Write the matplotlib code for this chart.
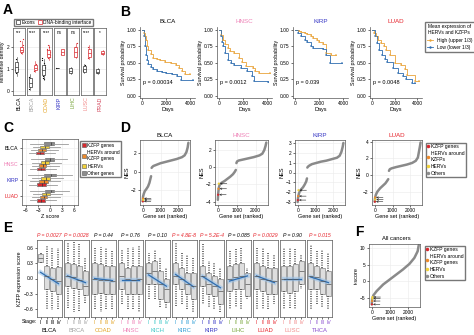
import matplotlib
matplotlib.use("Agg")
import matplotlib.pyplot as plt
from matplotlib.patches import Patch
from matplotlib.lines import Line2D

plt.rcParams['font.family'] = ['Liberation Sans', 'DejaVu Sans']
plt.rcParams['axes.linewidth'] = 0.5

W, H = 474, 335
HI = '#E9A43A'
LO = '#2E6DB0'
RED = '#D8282E'
ORANGE = '#EE8A2A'
YELLOW = '#F2D23A'
GREY = '#8C8C8C'

cancer_colors = {"BLCA": "black", "BRCA": "#A0A0A0", "COAD": "#E3A424", "KIRP": "#3434C4",
                 "LIHC": "#79A63C", "LUSC": "#F28A8A", "PRAD": "#D2475C", "HNSC": "#EE80B6",
                 "LUAD": "#E6232B", "KICH": "#3BC6C6", "KIRC": "#2E9ED6", "THCA": "#8A50D0"}

# ---------------- data: panel A ----------------
a_cancers = ["BLCA", "BRCA", "COAD", "KIRP", "LIHC", "LUSC", "PRAD"]
a_sig = ["***", "****", "****", "ns", "ns", "****", "*"]
# whislo, q1, med, q3, whishi
a_exon = [(0.7, 0.88, 1.1, 1.34, 1.55), (0.02, 0.18, 0.34, 0.57, 0.75), (0.5, 0.72, 0.95, 1.18, 1.45),
          (1.03, 1.03, 1.03, 1.03, 1.03), (0.75, 0.8, 0.9, 1.03, 1.1), (0.8, 0.88, 1.0, 1.14, 1.25),
          (0.75, 0.8, 0.88, 1.0, 1.05)]
a_dbi = [(1.7, 1.8, 1.9, 2.03, 2.3), (0.85, 0.95, 1.05, 1.18, 1.35), (1.4, 1.57, 1.72, 1.88, 2.1),
         (1.65, 1.65, 1.8, 1.95, 1.95), (1.5, 1.57, 1.8, 2.03, 2.2), (1.45, 1.57, 1.75, 1.95, 2.1),
         (1.65, 1.68, 1.75, 1.85, 1.9)]
a_exon_pts = [[0.8, 1.2, 1.45, 1.0, 0.95], [0.1, 0.3, 0.5, 0.2, 0.65, 0.4],
              [0.6, 0.8, 1.0, 1.2, 1.4, 0.9, 1.1, 0.7, 1.3, 0.85, 1.05, 1.5, 0.55, 0.95],
              [1.03], [0.85, 0.95, 1.0], [0.9, 1.0, 1.1, 1.2, 0.95, 1.05], [0.82, 0.9]]
a_dbi_pts = [[1.75, 1.9, 2.0, 2.1, 2.3, 1.85, 2.4], [0.9, 1.0, 1.1, 1.25],
             [1.5, 1.6, 1.7, 1.8, 1.9, 2.0, 1.65, 1.75, 1.85, 2.1, 1.55, 1.95],
             [1.7, 1.9], [1.6, 1.8, 2.0, 2.2], [1.5, 1.7, 1.8, 1.9, 2.0], [1.7, 1.8]]
jit = [-0.2, 0.15, -0.05, 0.25, -0.25, 0.05, 0.2, -0.15, 0.1, -0.1, 0.22, -0.22, 0.0, 0.12]

# ---------------- data: panel B ----------------
km_cancers = ["BLCA", "HNSC", "KIRP", "LUAD"]
km_p = ["p = 0.00034", "p = 0.0012", "p = 0.039", "p = 0.0048"]
km_hi_t = [[0, 100, 200, 300, 400, 500, 700, 900, 1200, 1500, 1900, 2400, 2800, 3100, 3300, 3600, 4000],
           [0, 150, 300, 500, 700, 900, 1200, 1600, 1900, 2200, 2800, 3000, 3300, 4200],
           [0, 300, 500, 800, 1000, 1300, 1500, 1800, 2000, 2300, 2600, 3000, 3400],
           [0, 150, 300, 500, 800, 1000, 1200, 1600, 2000, 2500, 2900, 3100, 3800, 4100]]
km_hi_s = [[1, 0.95, 0.9, 0.84, 0.76, 0.7, 0.64, 0.58, 0.56, 0.54, 0.52, 0.5, 0.46, 0.42, 0.37, 0.33, 0.33],
           [1, 0.92, 0.85, 0.78, 0.72, 0.68, 0.65, 0.58, 0.52, 0.45, 0.42, 0.37, 0.35, 0.35],
           [1, 0.98, 0.97, 0.95, 0.93, 0.9, 0.88, 0.85, 0.82, 0.78, 0.65, 0.62, 0.62],
           [1, 0.95, 0.9, 0.85, 0.8, 0.75, 0.7, 0.62, 0.5, 0.47, 0.4, 0.32, 0.22, 0.22]]
km_lo_t = [[0, 100, 200, 300, 400, 500, 700, 900, 1200, 1600, 2000, 2500, 2900, 3200, 4200],
           [0, 100, 200, 300, 500, 700, 1000, 1200, 1800, 2300, 2700, 2900, 4100],
           [0, 200, 500, 800, 1000, 1300, 1500, 2300, 2600, 2900, 3900],
           [0, 200, 400, 600, 900, 1100, 1300, 1800, 2300, 2700, 3000, 3500, 3800]]
km_lo_s = [[1, 0.9, 0.75, 0.62, 0.54, 0.48, 0.43, 0.4, 0.38, 0.36, 0.35, 0.33, 0.3, 0.24, 0.24],
           [1, 0.9, 0.82, 0.75, 0.65, 0.55, 0.5, 0.47, 0.42, 0.37, 0.3, 0.22, 0.21],
           [1, 0.95, 0.9, 0.85, 0.82, 0.76, 0.73, 0.71, 0.62, 0.5, 0.5],
           [1, 0.9, 0.8, 0.7, 0.62, 0.56, 0.52, 0.42, 0.35, 0.3, 0.25, 0.2, 0.2]]

# ---------------- data: panel C ----------------
c_cancers = ["BLCA", "HNSC", "KIRP", "LUAD"]
c_groups = ["Other genes", "HERVs", "HERVs around\nKZFP genes", "KZFP genes"]
c_group_colors = [GREY, YELLOW, ORANGE, RED]
c_stats = [[(-4.9, -1.4, 0.2, 1.1, 4.4), (-4.3, -2.4, -1.3, -0.3, 2.6), (-4.8, -3.0, -1.9, -1.0, 2.0), (-5.2, -3.4, -2.4, -1.4, 1.2)],
           [(-4.7, -1.3, 0.1, 1.0, 4.2), (-4.4, -2.3, -1.2, -0.2, 2.8), (-4.6, -2.8, -1.8, -0.9, 2.2), (-5.0, -3.3, -2.2, -1.3, 1.4)],
           [(-5.6, -1.6, 0.3, 1.4, 5.5), (-4.6, -2.2, -1.1, 0.0, 3.2), (-4.9, -2.7, -1.6, -0.6, 2.6), (-5.3, -3.2, -2.0, -0.9, 1.8)],
           [(-4.9, -1.3, 0.2, 1.1, 4.8), (-4.2, -2.1, -1.0, 0.0, 3.0), (-4.6, -2.6, -1.6, -0.7, 2.4), (-5.1, -3.2, -2.2, -1.2, 1.5)]]

# ---------------- data: panel D ----------------
d_ylims = [(-3.6, 3.4), (-4.4, 3.2), (-3.3, 3.3), (-3.6, 4.2)]
d_yticks = [[-2, 0, 2], [-4, -2, 0, 2], [-3, -2, -1, 0, 1, 2, 3], [-2, 0, 2, 4]]
d_lo_x = [[0, 20, 60, 120, 200, 300, 380, 430, 470],
          [0, 20, 50, 100, 200, 350, 500, 650, 800, 900, 950],
          [0, 20, 60, 120, 200, 300, 400, 480, 520],
          [0, 20, 60, 150, 300, 450, 600, 700, 760]]
d_lo_y = [[-3.2, -2.7, -2.4, -2.1, -1.9, -1.6, -1.2, -0.8, -0.5],
          [-3.8, -3.0, -2.4, -2.0, -1.8, -1.6, -1.35, -1.1, -0.8, -0.5, -0.3],
          [-3.0, -2.6, -2.2, -1.9, -1.7, -1.5, -1.2, -0.9, -0.6],
          [-3.2, -2.8, -2.4, -2.0, -1.6, -1.3, -1.0, -0.7, -0.5]]
d_hi_x = [[500, 540, 600, 800, 1000, 1300, 1600, 1900, 2200, 2350, 2450, 2520, 2560],
          [980, 1020, 1100, 1300, 1600, 1900, 2200, 2350, 2450, 2520, 2560],
          [540, 580, 650, 800, 1000, 1300, 1600, 1900, 2200, 2350, 2450, 2520, 2560],
          [800, 850, 950, 1200, 1500, 1800, 2100, 2300, 2420, 2480, 2540, 2570]]
d_hi_y = [[0.4, 0.5, 0.6, 0.75, 0.9, 1.05, 1.2, 1.35, 1.55, 1.75, 2.1, 2.6, 3.1],
          [0.5, 0.7, 0.8, 0.9, 1.05, 1.2, 1.4, 1.6, 2.0, 2.5, 2.9],
          [0.5, 0.6, 0.7, 0.85, 0.95, 1.1, 1.2, 1.35, 1.5, 1.7, 2.1, 2.6, 3.0],
          [0.5, 0.7, 0.8, 0.95, 1.1, 1.25, 1.45, 1.7, 2.1, 2.8, 3.5, 3.9]]
d_hl_x = [[10, 20, 30], [15, 35, 50], [10, 25, 45], [10, 20, 30]]
d_hl_y = [[-3.2, -2.9, -3.05], [-3.2, -2.5, -1.9], [-2.8, -2.4, -1.8], [-3.2, -2.7, -2.95]]
d_hl_c = [RED, ORANGE, YELLOW]

# ---------------- data: panel E ----------------
e_cancers = ["BLCA", "BRCA", "COAD", "HNSC", "KICH", "KIRC", "KIRP", "LIHC", "LUAD", "LUSC", "THCA"]
e_p = ["P = 0.0027", "P = 0.0028", "P = 0.44", "P = 0.76", "P = 0.10", "P = 4.8E-8",
       "P = 5.2E-4", "P = 0.085", "P = 0.0029", "P = 0.90", "P = 0.015"]
e_sig = [True, True, False, False, False, True, True, False, True, False, True]
stages = ["I", "II", "III", "IV"]
# per stage: whislo, q1, med, q3, whishi
e_stats = [
    [(0.28, 0.32, 0.4, 0.48, 0.52), (-0.6, -0.2, 0.05, 0.25, 0.65), (-0.62, -0.25, 0.0, 0.2, 0.6), (-0.62, -0.3, -0.05, 0.22, 0.6)],
    [(-0.6, -0.15, 0.05, 0.3, 0.72), (-0.65, -0.18, 0.02, 0.28, 0.72), (-0.65, -0.2, -0.02, 0.25, 0.7), (-0.5, -0.32, -0.15, 0.15, 0.4)],
    [(-0.6, -0.3, 0.0, 0.3, 0.6), (-0.65, -0.28, -0.02, 0.28, 0.62), (-0.6, -0.3, -0.02, 0.25, 0.6), (-0.6, -0.3, -0.05, 0.25, 0.55)],
    [(-0.5, -0.2, 0.05, 0.3, 0.55), (-0.6, -0.3, 0.0, 0.2, 0.6), (-0.6, -0.3, -0.02, 0.25, 0.62), (-0.65, -0.3, 0.0, 0.25, 0.65)],
    [(-0.4, -0.1, 0.1, 0.3, 0.5), (-0.4, -0.1, 0.15, 0.35, 0.55), (-0.55, -0.4, -0.1, 0.15, 0.4), (-0.6, -0.45, -0.2, 0.0, 0.2)],
    [(-0.55, -0.1, 0.05, 0.3, 0.72), (-0.5, -0.2, 0.0, 0.2, 0.5), (-0.6, -0.3, -0.1, 0.1, 0.45), (-0.65, -0.4, -0.15, 0.1, 0.4)],
    [(-0.5, -0.15, 0.05, 0.25, 0.7), (-0.55, -0.3, -0.1, 0.1, 0.35), (-0.6, -0.35, -0.15, 0.05, 0.3), (-0.65, -0.5, -0.25, 0.0, 0.2)],
    [(-0.6, -0.25, 0.0, 0.25, 0.55), (-0.55, -0.2, 0.02, 0.28, 0.6), (-0.6, -0.2, 0.05, 0.3, 0.6), (-0.4, -0.35, -0.1, 0.1, 0.2)],
    [(-0.6, -0.2, 0.05, 0.3, 0.62), (-0.6, -0.25, 0.0, 0.25, 0.6), (-0.6, -0.3, -0.02, 0.2, 0.5), (-0.5, -0.3, -0.05, 0.2, 0.45)],
    [(-0.6, -0.25, 0.0, 0.25, 0.6), (-0.6, -0.28, 0.0, 0.25, 0.6), (-0.6, -0.25, 0.0, 0.28, 0.6), (-0.2, -0.1, 0.15, 0.35, 0.45)],
    [(-0.6, -0.2, 0.05, 0.3, 0.65), (-0.5, -0.2, 0.02, 0.25, 0.55), (-0.55, -0.3, -0.05, 0.2, 0.55), (-0.6, -0.35, -0.1, 0.15, 0.5)],
]
e_trend_start = [0.12, 0.05, 0.0, -0.03, 0.07, 0.08, 0.04, -0.05, 0.05, 0.0, 0.03]
e_trend_end = [-0.1, -0.08, -0.04, -0.03, -0.15, -0.16, -0.18, 0.05, -0.08, 0.0, -0.08]

# ---------------- data: panel F ----------------
f_x = [0, 20, 90, 270, 630, 990, 1350, 1710, 2070, 2340, 2520, 2580]
f_y = [-7.0, -5.5, -4.3, -3.0, -1.0, 0.5, 2.0, 3.5, 5.2, 7.0, 9.0, 10.8]
f_hl_x = [10, 20, 30, 40]
f_hl_y = [-7.0, -6.0, -5.3, -4.8]
f_hl_c = [RED, ORANGE, YELLOW, YELLOW]

fig = plt.figure(figsize=(4.74, 3.35), dpi=100)


def px_axes(l, t, r, b):
    return fig.add_axes([l / W, 1 - b / H, (r - l) / W, (b - t) / H])


def tidy(ax, size=3.5):
    ax.tick_params(labelsize=size, length=1.5, width=0.4, pad=1)
    for s in ax.spines.values():
        s.set_color('#555555')
        s.set_linewidth(0.5)


def box_stats(rows):
    return [dict(whislo=r[0], q1=r[1], med=r[2], q3=r[3], whishi=r[4], fliers=[]) for r in rows]


# panel letters
for letter, x, y in [("A", 3, 10), ("B", 120, 12), ("C", 3, 128), ("D", 120, 128), ("E", 3, 228), ("F", 355, 232)]:
    fig.text(x / W, 1 - y / H, letter, fontsize=10, fontweight='bold', va='center')

# ---------------- panel A ----------------
a_left, a_right, a_top, a_bot, a_gap = 13, 106, 28, 95, 1.5
fw = (a_right - a_left - a_gap * 6) / 7
for i, c in enumerate(a_cancers):
    l = a_left + i * (fw + a_gap)
    ax = px_axes(l, a_top, l + fw, a_bot)
    tidy(ax)
    ax.yaxis.grid(True, color='#e5e5e5', lw=0.4)
    ax.set_axisbelow(True)
    bp = ax.bxp(box_stats([a_exon[i], a_dbi[i]]), positions=[1, 2], widths=0.6,
                patch_artist=True, showcaps=False)
    for patch, col in zip(bp['boxes'], ['#333333', RED]):
        patch.set(facecolor='white', edgecolor=col, linewidth=0.5)
    for j, w in enumerate(bp['whiskers']):
        w.set(color='#333333' if j < 2 else RED, linewidth=0.4)
    for j, m in enumerate(bp['medians']):
        m.set(color='#333333' if j == 0 else RED, linewidth=0.5)
    ax.scatter([1 + jit[k] for k in range(len(a_exon_pts[i]))], a_exon_pts[i], s=0.8, color='black', lw=0)
    ax.scatter([2 + jit[k] for k in range(len(a_dbi_pts[i]))], a_dbi_pts[i], s=0.8, color=RED, lw=0)
    ax.text(1.5, 2.58, a_sig[i], ha='center', va='bottom', fontsize=3.3)
    ax.set_xlim(0.3, 2.7)
    ax.set_ylim(-0.2, 2.9)
    ax.set_xticks([1.5])
    ax.set_xticklabels([c], rotation=90, fontsize=3.8, color=cancer_colors[c])
    ax.tick_params(axis='x', length=0)
    ax.set_yticks([0, 1, 2])
    if i == 0:
        ax.set_ylabel('Missense density', fontsize=3.8, labelpad=1)
    else:
        ax.set_yticklabels([])
        ax.tick_params(axis='y', length=0)

fig.legend(handles=[Patch(facecolor='white', edgecolor='#333333', lw=0.5, label='Exons'),
                    Patch(facecolor='white', edgecolor=RED, lw=0.5, label='DNA-binding interface')],
           loc='center left', bbox_to_anchor=(12 / W, 1 - 22.5 / H), ncol=2, fontsize=3.5,
           frameon=True, handlelength=0.8, handleheight=0.8, columnspacing=0.6, handletextpad=0.3,
           borderpad=0.3, edgecolor='#555555', fancybox=False)

# ---------------- panel B ----------------
b_boxes = [(140, 27, 195, 98), (217, 27, 272, 98), (293, 27, 348, 98), (370, 27, 422, 98)]
for i, c in enumerate(km_cancers):
    ax = px_axes(*b_boxes[i])
    tidy(ax)
    ax.step(km_hi_t[i], km_hi_s[i], where='post', color=HI, lw=0.6)
    ax.step(km_lo_t[i], km_lo_s[i], where='post', color=LO, lw=0.6)
    ax.plot(km_hi_t[i][1:], km_hi_s[i][1:], '+', ms=1.8, mew=0.35, color=HI)
    ax.plot(km_lo_t[i][1:], km_lo_s[i][1:], '+', ms=1.8, mew=0.35, color=LO)
    ax.set_xlim(-200, 4400)
    ax.set_ylim(-0.03, 1.04)
    ax.set_xticks([0, 2000, 4000])
    ax.set_yticks([0, 0.25, 0.5, 0.75, 1.0])
    ax.set_yticklabels(['0.00', '0.25', '0.50', '0.75', '1.00'])
    ax.spines['top'].set_visible(False)
    ax.spines['right'].set_visible(False)
    ax.set_title(c, color=cancer_colors[c], fontsize=4.5, pad=3)
    ax.set_ylabel('Survival probability', fontsize=3.8, labelpad=1)
    ax.set_xlabel('Days', fontsize=4, labelpad=0.5)
    ax.text(0.06, 0.2, km_p[i], transform=ax.transAxes, fontsize=4)

fig.legend(handles=[Line2D([], [], color=HI, lw=0.6, marker='+', ms=2, label='High (upper 1/3)'),
                    Line2D([], [], color=LO, lw=0.6, marker='+', ms=2, label='Low (lower 1/3)')],
           title='Mean expression of\nHERVs and KZFPs', title_fontsize=3.5, fontsize=3.5,
           loc='upper left', bbox_to_anchor=(423 / W, 1 - 20 / H), frameon=True, fancybox=False,
           edgecolor='#555555', handlelength=1.2, borderpad=0.4, labelspacing=0.5)

# ---------------- panel C ----------------
ax = px_axes(22, 139, 78, 205)
tidy(ax)
ax.grid(True, color='#ebebeb', lw=0.4)
ax.set_axisbelow(True)
offs = [-0.3, -0.1, 0.1, 0.3]
for ci in range(len(c_cancers)):
    bp = ax.bxp(box_stats(c_stats[ci]), positions=[ci + o for o in offs], widths=0.17,
                orientation='horizontal', patch_artist=True, showcaps=False)
    for patch, col in zip(bp['boxes'], c_group_colors):
        patch.set(facecolor=col, edgecolor='#555555', linewidth=0.4)
    for w in bp['whiskers']:
        w.set(color='#9a9a9a', linewidth=0.6)
    for m in bp['medians']:
        m.set(color='#333333', linewidth=0.5)
ax.set_ylim(3.6, -0.6)
ax.set_yticks(range(len(c_cancers)))
ax.set_yticklabels(c_cancers, fontsize=3.8)
for lab, c in zip(ax.get_yticklabels(), c_cancers):
    lab.set_color(cancer_colors[c])
ax.set_xlim(-7, 7)
ax.set_xticks([-6, -3, 0, 3, 6])
ax.set_xlabel('Z score', fontsize=4, labelpad=0.5)

fig.legend(handles=[Patch(facecolor=c_group_colors[k], edgecolor='#555555', lw=0.4, label=c_groups[k])
                    for k in [3, 2, 1, 0]],
           loc='upper left', bbox_to_anchor=(78 / W, 1 - 139 / H), fontsize=3.5, frameon=True,
           fancybox=False, edgecolor='#555555', handlelength=0.8, handleheight=0.8,
           handletextpad=0.3, borderpad=0.3, labelspacing=0.5)

# ---------------- panel D ----------------
d_boxes = [(140, 140, 190, 205), (215, 140, 268, 205), (295, 140, 345, 205), (372, 140, 422, 205)]


def ranked(ax, lo_x, lo_y, hi_x, hi_y, hl_x, hl_y, hl_c):
    tidy(ax)
    ax.grid(True, color='#ebebeb', lw=0.4)
    ax.set_axisbelow(True)
    ax.plot(lo_x, lo_y, color='#8a8a8a', lw=1.8, solid_capstyle='round')
    if hi_x:
        ax.plot(hi_x, hi_y, color='#8a8a8a', lw=1.8, solid_capstyle='round')
    ax.scatter(hl_x, hl_y, s=2.5, c=hl_c, lw=0, zorder=3)
    for x, y, col in zip(hl_x, hl_y, hl_c):
        ax.annotate('', xy=(x + 60, y), xytext=(5, 0), textcoords='offset points',
                    arrowprops=dict(arrowstyle='->', lw=0.4, color='#222222',
                                    shrinkA=0, shrinkB=0, mutation_scale=3))
    ax.set_xlim(-150, 2650)
    ax.set_xticks([0, 1000, 2000])
    ax.set_xlabel('Gene set (ranked)', fontsize=4, labelpad=0.5)


for i, c in enumerate(km_cancers):
    ax = px_axes(*d_boxes[i])
    ranked(ax, d_lo_x[i], d_lo_y[i], d_hi_x[i], d_hi_y[i], d_hl_x[i], d_hl_y[i], d_hl_c)
    ax.set_ylim(*d_ylims[i])
    ax.set_yticks(d_yticks[i])
    ax.set_ylabel('NES', fontsize=4, labelpad=1)
    ax.set_title(c, color=cancer_colors[c], fontsize=4.5, pad=2)


def dot_legend(labels, anchor):
    cols = [RED, ORANGE, YELLOW, GREY]
    fig.legend(handles=[Line2D([], [], ls='none', marker='o', ms=1.5, color=cols[k], label=labels[k])
                        for k in range(4)],
               loc='upper left', bbox_to_anchor=anchor, fontsize=3.6, frameon=True, fancybox=False,
               edgecolor='#555555', handlelength=0.5, handletextpad=0.3, borderpad=0.3,
               labelspacing=0.4)


dot_legend(['KZFP genes', 'HERVs around\nKZFPs', 'HERVs', 'Others'], (423 / W, 1 - 140 / H))

# ---------------- panel E ----------------
e_left, e_right, e_top, e_bot, e_gap = 37, 332, 240, 317, 2
fw = (e_right - e_left - e_gap * 10) / 11
for i, c in enumerate(e_cancers):
    l = e_left + i * (fw + e_gap)
    ax = px_axes(l, e_top, l + fw, e_bot)
    tidy(ax)
    bp = ax.bxp(box_stats(e_stats[i]), positions=[1, 2, 3, 4], widths=0.7,
                patch_artist=True, showcaps=False)
    for patch in bp['boxes']:
        patch.set(facecolor='#dedede', edgecolor='#6a6a6a', linewidth=0.4)
    for w in bp['whiskers']:
        w.set(color='#555555', linewidth=1.2, linestyle=(0, (0.6, 0.8)))
    for m in bp['medians']:
        m.set(color='#555555', linewidth=0.5)
    ax.plot([1, 4], [e_trend_start[i], e_trend_end[i]], color='#9cc3e8', lw=3.2, alpha=0.6)
    ax.plot([1, 4], [e_trend_start[i], e_trend_end[i]], color=LO, lw=0.9)
    ax.set_xlim(0.4, 4.6)
    ax.set_ylim(-0.75, 0.75)
    ax.set_xticks([1, 2, 3, 4])
    ax.set_xticklabels(stages, fontsize=3.6)
    for lab in ax.get_xticklabels():
        lab.set_color(cancer_colors[c])
    ax.set_xlabel(c, fontsize=4.2, color=cancer_colors[c], labelpad=2)
    ax.set_title(e_p[i], fontsize=3.7, style='italic', pad=2,
                 color='#E6232B' if e_sig[i] else 'black')
    ax.set_yticks([-0.6, -0.3, 0.0, 0.3, 0.6])
    if i == 0:
        ax.set_ylabel('KZFP expression score', fontsize=3.8, labelpad=1)
    else:
        ax.set_yticklabels([])
        ax.tick_params(axis='y', length=0)

fig.text(22 / W, 1 - 322 / H, 'Stage:', fontsize=3.8, va='center')

# ---------------- panel F ----------------
fig.text(382 / W, 1 - 238 / H, 'All cancers', fontsize=4.2, va='center')
ax = px_axes(369, 244, 420, 307)
ranked(ax, f_x, f_y, [], [], f_hl_x, f_hl_y, f_hl_c)
ax.set_ylim(-7.8, 11.2)
ax.set_yticks([-5, 0, 5, 10])
ax.set_ylabel('t-score', fontsize=4, labelpad=1)
dot_legend(['KZFP genes', 'HERVs around\nKZFP genes', 'HERVs', 'Others'], (422 / W, 1 - 243 / H))

fig.savefig('out.png', dpi=100)
